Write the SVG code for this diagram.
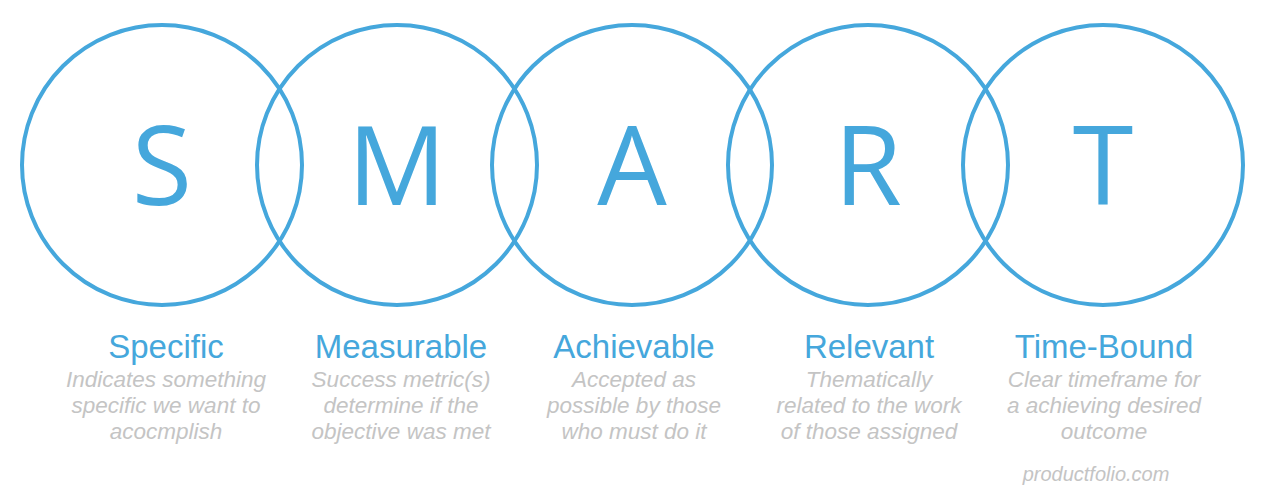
<svg xmlns="http://www.w3.org/2000/svg" width="1275" height="498" viewBox="0 0 1275 498">
<style>
.c{fill:none;stroke:#45a7dc;stroke-width:4}
.l{font-family:"Open Sans",sans-serif;font-weight:500;font-size:110px;fill:#45a7dc;text-anchor:middle}
.t{font-family:"Liberation Sans",Arial,sans-serif;font-size:33px;fill:#45a7dc;text-anchor:middle}
.d{font-family:"Liberation Sans",Arial,sans-serif;font-style:italic;font-size:22.5px;fill:#c4c4c4;text-anchor:middle}
</style>
<rect width="1275" height="498" fill="#fff"/>
<g id="S"><circle class="c" cx="162" cy="165" r="140"/><text class="l" x="162" y="205">S</text>
<text class="t" x="166" y="358">Specific</text>
<text class="d" x="166" y="387">Indicates something</text><text class="d" x="166" y="413">specific we want to</text><text class="d" x="166" y="439">acocmplish</text></g>
<g id="M"><circle class="c" cx="397" cy="165" r="140"/><text class="l" x="397" y="205">M</text>
<text class="t" x="401" y="358">Measurable</text>
<text class="d" x="401" y="387">Success metric(s)</text><text class="d" x="401" y="413">determine if the</text><text class="d" x="401" y="439">objective was met</text></g>
<g id="A"><circle class="c" cx="632" cy="165" r="140"/><text class="l" x="632" y="205">A</text>
<text class="t" x="634" y="358">Achievable</text>
<text class="d" x="634" y="387">Accepted as</text><text class="d" x="634" y="413">possible by those</text><text class="d" x="634" y="439">who must do it</text></g>
<g id="R"><circle class="c" cx="868" cy="165" r="140"/><text class="l" x="868" y="205">R</text>
<text class="t" x="869" y="358">Relevant</text>
<text class="d" x="869" y="387">Thematically</text><text class="d" x="869" y="413">related to the work</text><text class="d" x="869" y="439">of those assigned</text></g>
<g id="T"><circle class="c" cx="1103" cy="165" r="140"/><text class="l" x="1103" y="205">T</text>
<text class="t" x="1104" y="358">Time-Bound</text>
<text class="d" x="1104" y="387">Clear timeframe for</text><text class="d" x="1104" y="413">a achieving desired</text><text class="d" x="1104" y="439">outcome</text></g>
<g id="connectors"/>
<text class="d" x="1096" y="481" style="font-size:20px">productfolio.com</text>
</svg>
